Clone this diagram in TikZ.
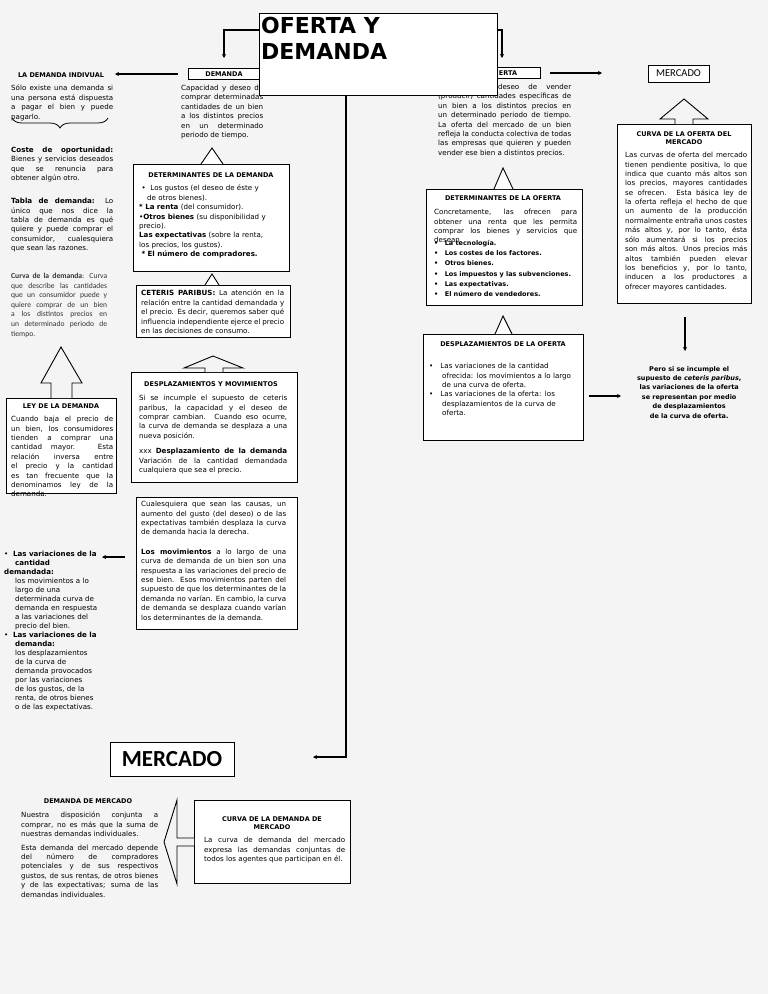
\documentclass[tikz,border=0pt]{standalone}
\usepackage{fontspec}
\setmainfont{DejaVu Sans}
\newfontfamily\calib{Carlito}
\usetikzlibrary{arrows.meta,decorations.pathreplacing}
\hyphenpenalty=10000 \exhyphenpenalty=10000 \tolerance=9999 \emergencystretch=20pt \hbadness=10000
\newcommand\fs{\fontsize{7.1}{9.4}\selectfont}
\newcommand\fb{\fontsize{6.5}{8.6}\selectfont\bfseries}
\tikzset{
 txt/.style={anchor=north west,inner sep=0pt,align=justify,font=\fs},
 ttl/.style={inner sep=0pt,align=center,font=\fb},
 bx/.style={draw,fill=white,line width=1pt},
 arr/.style={line width=1.1pt,-{Stealth[length=4pt,width=4pt]}},
 call/.style={draw,fill=white,line width=0.9pt,line join=miter}
}
\begin{document}
\begin{tikzpicture}[x=1pt,y=-1pt]
\fill[gray!9] (0,0) rectangle (768,994);
\useasboundingbox (0,0) rectangle (768,994);
% connectors from title
\coordinate (tl) at (259,30); \coordinate (tr) at (497,30);
\draw[arr] (tl) -| (224,58);
\draw[arr] (tr) -| (502,58);
% DEMANDA branch
\node[bx,minimum width=72,minimum height=11,inner sep=0] (dem) at (224,74) {};
\node[ttl] (demt) at (224,74) {DEMANDA};
\draw[arr] (dem.west) ++(-10,0) coordinate (d1) -- (115,74) coordinate (d2);
\node[ttl] (ldi) at (61,75) {LA DEMANDA INDIVUAL};
\node[txt,text width=102] (t1) at (11,85) {Sólo existe una demanda si una persona está dispuesta a pagar el bien y puede pagarlo.};
\draw[line width=0.8pt,decorate,decoration={brace,mirror,amplitude=10pt}] (12,118) -- (108,118);
\node[txt,text width=102] (t2) at (11,147) {\textbf{Coste de oportunidad:} Bienes y servicios deseados que se renuncia para obtener algún otro.};
\node[txt,text width=102] (t3) at (11,198) {\textbf{Tabla de demanda:} Lo único que nos dice la tabla de demanda es qué quiere y puede comprar el consumidor, cualesquiera que sean las razones.};
\node[txt,text width=96,font=\calib\fontsize{7.6}{9.6}\selectfont,text=black!80] (t4) at (11,273) {\textbf{Curva de la demanda}: Curva que describe las cantidades que un consumidor puede y quiere comprar de un bien a los distintos precios en un determinado periodo de tiempo.};
\node[txt,text width=82] (t5) at (181,85) {Capacidad y deseo de comprar determinadas cantidades de un bien a los distintos precios en un determinado periodo de tiempo.};
% Determinantes demanda
\node[bx,minimum width=156,minimum height=107,inner sep=0] (dd) at (211,218) {};
\draw[call] (201,164) -- (212,148) -- (223,164);
\node[ttl] (ddt) at (211,175) {DETERMINANTES DE LA DEMANDA};
\node[txt,text width=145,align=left] (ddx) at (139,185) {~•~ Los gustos (el deseo de éste y\\\hspace*{8pt}de otros bienes).\\\textbf{* La renta} (del consumidor).\\•\textbf{Otros bienes} (su disponibilidad y\\precio).\\*\textbf{Las expectativas} (sobre la renta,\\los precios, los gustos).\\\textbf{~* El número de compradores.}};
% Ceteris paribus
\node[bx,minimum width=154,minimum height=52,inner sep=0] (cp) at (213,311) {};
\draw[call] (205,285) -- (212,274) -- (219,285);
\node[txt,text width=143] (cpt) at (141,290) {\textbf{CETERIS PARIBUS:} La atención en la relación entre la cantidad demandada y el precio. Es decir, queremos saber qué influencia independiente ejerce el precio en las decisiones de consumo.};
% Desplazamientos y movimientos
\node[bx,minimum width=166,minimum height=110,inner sep=0] (dm) at (214,427) {};
\draw[call,fill=gray!9] (205,372) -- (205,368) -- (184,368) -- (213,356) -- (243,368) -- (223,368) -- (223,372);
\node[ttl] (dmt) at (211,384) {DESPLAZAMIENTOS Y MOVIMIENTOS};
\node[txt,text width=148] (dmx) at (139,395) {Si se incumple el supuesto de ceteris paribus, la capacidad y el deseo de comprar cambian. Cuando eso ocurre, la curva de demanda se desplaza a una nueva posición.\\[6pt]xxx \textbf{Desplazamiento de la demanda} Variación de la cantidad demandada cualquiera que sea el precio.};
% Ley de la demanda
\node[bx,minimum width=110,minimum height=95,inner sep=0] (ld) at (61,446) {};
\draw[call,fill=gray!9] (51,398) -- (51,383) -- (41,383) -- (61,347) -- (82,383) -- (72,383) -- (72,398);
\node[ttl] (ldt) at (61,406) {LEY DE LA DEMANDA};
\node[txt,text width=102] (ldx) at (11,416) {Cuando baja el precio de un bien, los consumidores tienden a comprar una cantidad mayor. Esta relación inversa entre el precio y la cantidad es tan frecuente que la denominamos ley de la demanda.};
% Box causas / movimientos
\node[bx,minimum width=161,minimum height=132,inner sep=0] (cm) at (216.5,563) {};
\node[txt,text width=145] (cmx) at (141,501) {Cualesquiera que sean las causas, un aumento del gusto (del deseo) o de las expectativas también desplaza la curva de demanda hacia la derecha.\\[10pt]\textbf{Los movimientos} a lo largo de una curva de demanda de un bien son una respuesta a las variaciones del precio de ese bien. Esos movimientos parten del supuesto de que los determinantes de la demanda no varían. En cambio, la curva de demanda se desplaza cuando varían los determinantes de la demanda.};
\coordinate (a1) at (125,557);
\draw[arr] (a1) -- (102,557);
\node[txt,text width=97,align=left,font=\fontsize{7.1}{9}\selectfont] (vl) at (4,551) {•~~\textbf{Las variaciones de la}\\\hspace*{11pt}\textbf{cantidad demandada:}\\\hspace*{11pt}los movimientos a lo\\\hspace*{11pt}largo de una\\\hspace*{11pt}determinada curva de\\\hspace*{11pt}demanda en respuesta\\\hspace*{11pt}a las variaciones del\\\hspace*{11pt}precio del bien.\\•~~\textbf{Las variaciones de la}\\\hspace*{11pt}\textbf{demanda:}\\\hspace*{11pt}los desplazamientos\\\hspace*{11pt}de la curva de\\\hspace*{11pt}demanda provocados\\\hspace*{11pt}por las variaciones\\\hspace*{11pt}de los gustos, de la\\\hspace*{11pt}renta, de otros bienes\\\hspace*{11pt}o de las expectativas.};
% central line to MERCADO
\coordinate (c1) at (346,95);
\draw[arr] (c1) -- (346,757) -- (313,757);
\node[draw,fill=white,line width=1pt,minimum width=124,minimum height=34,font=\calib\fontsize{23}{24}\selectfont\bfseries] (merc) at (172,759) {MERCADO};
\node[ttl] (dmm) at (88,801) {DEMANDA DE MERCADO};
\node[txt,text width=137] (dmmx) at (21,812) {Nuestra disposición conjunta a comprar, no es más que la suma de nuestras demandas individuales.\\[4pt]Esta demanda del mercado depende del número de compradores potenciales y de sus respectivos gustos, de sus rentas, de otros bienes y de las expectativas; suma de las demandas individuales.};
\node[bx,minimum width=156,minimum height=83,inner sep=0] (cdm) at (272,841.5) {};
\draw[call,fill=gray!9] (194,838) -- (177,838) -- (177,800) -- (164,842) -- (177,884) -- (177,846) -- (194,846);
\node[ttl] (cdmt) at (272,823) {CURVA DE LA DEMANDA DE\\MERCADO};
\node[txt,text width=141] (cdmx) at (204,837) {La curva de demanda del mercado expresa las demandas conjuntas de todos los agentes que participan en él.};
% OFERTA branch
\node[bx,minimum width=100,minimum height=11,inner sep=0] (of) at (490,72.5) {};
\node[ttl] (oft) at (503,73) {OFERTA};
\draw[arr] (550,73) coordinate (o1) -- (602,73);
\node[draw,fill=white,line width=1pt,minimum width=61,minimum height=17,inner sep=0,font=\calib\fontsize{10.5}{11}\selectfont] (mr) at (678.5,73.5) {MERCADO};
\node[txt,text width=133] (ofx) at (438,84) {Capacidad y deseo de vender (producir) cantidades específicas de un bien a los distintos precios en un determinado periodo de tiempo. La oferta del mercado de un bien refleja la conducta colectiva de todas las empresas que quieren y pueden vender ese bien a distintos precios.};
% Determinantes oferta
\node[bx,minimum width=156,minimum height=116,inner sep=0] (do) at (504,247) {};
\draw[call] (494,189) -- (503,168) -- (513,189);
\node[ttl] (dot) at (503,198) {DETERMINANTES DE LA OFERTA};
\node[txt,text width=143] (dox) at (434,209) {Concretamente, las ofrecen para obtener una renta que les permita comprar los bienes y servicios que desean.};
\node[txt,text width=143,align=left,font=\fontsize{6.5}{10.2}\selectfont\bfseries] (dol) at (434,240) {•~~~La tecnología.\\•~~~Los costes de los factores.\\•~~~Otros bienes.\\•~~~Los impuestos y las subvenciones.\\•~~~Las expectativas.\\•~~~El número de vendedores.};
% Desplazamientos oferta
\node[bx,minimum width=160,minimum height=106,inner sep=0] (dof) at (503,387) {};
\draw[call] (495,334) -- (503,316) -- (512,334);
\node[ttl] (doft) at (503,344) {DESPLAZAMIENTOS DE LA OFERTA};
\node[txt,text width=150,align=left] (dofx) at (429,363) {•~~~Las variaciones de la cantidad\\\hspace*{13pt}ofrecida: los movimientos a lo largo\\\hspace*{13pt}de una curva de oferta.\\•~~~Las variaciones de la oferta: los\\\hspace*{13pt}desplazamientos de la curva de\\\hspace*{13pt}oferta.};
\draw[arr] (589,396) coordinate (o2) -- (621,396);
% Curva oferta mercado
\node[bx,minimum width=134,minimum height=179,inner sep=0] (com) at (684,213.5) {};
\draw[call,fill=gray!9] (675,124) -- (675,119) -- (660,119) -- (684,99) -- (708,119) -- (693,119) -- (693,124);
\node[ttl] (comt) at (684,138) {CURVA DE LA OFERTA DEL\\MERCADO};
\node[txt,text width=122] (comx) at (625,152) {Las curvas de oferta del mercado tienen pendiente positiva, lo que indica que cuanto más altos son los precios, mayores cantidades se ofrecen. Esta básica ley de la oferta refleja el hecho de que un aumento de la producción normalmente entraña unos costes más altos y, por lo tanto, ésta sólo aumentará si los precios son más altos. Unos precios más altos también pueden elevar los beneficios y, por lo tanto, inducen a los productores a ofrecer mayores cantidades.};
\draw[arr] (685,317) coordinate (o3) -- (685,351);
\node[txt,text width=106,align=center,font=\fontsize{6.5}{9.4}\selectfont\bfseries] (pero) at (636,366) {Pero si se incumple el supuesto de \textit{ceteris paribus}, las variaciones de la oferta se representan por medio de desplazamientos de la curva de oferta.};
% Title
\node[draw,fill=white,line width=1pt,minimum width=238,minimum height=82,inner sep=0] (title) at (378,54) {};
\node[anchor=north west,inner sep=0,align=left,font=\fontsize{22}{26}\selectfont\bfseries] (titlet) at (261,17) {OFERTA Y\\DEMANDA};
\end{tikzpicture}
\end{document}
